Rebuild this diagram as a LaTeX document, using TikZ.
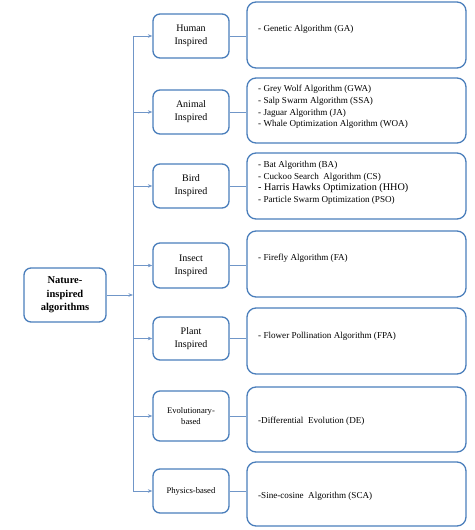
\documentclass[tikz,border=0pt]{standalone}
\usepackage{fontspec}
\setmainfont{Liberation Serif}
\usetikzlibrary{arrows.meta}
\definecolor{boxblue}{HTML}{4A7EBB}
\definecolor{lineblue}{HTML}{7096C8}
\begin{document}
\begin{tikzpicture}[x=1pt,y=-1pt,
  catbox/.style={draw=boxblue, line width=1.3pt, rounded corners=7pt, align=center,
    minimum width=76pt, inner sep=1pt, font=\fontsize{10}{13}\selectfont},
  algbox/.style={draw=boxblue, line width=1.3pt, rounded corners=9pt,
    minimum width=219pt},
  algtxt/.style={anchor=west, align=left, inner sep=0pt, font=\fontsize{9.1}{11.6}\selectfont},
  link/.style={draw=lineblue, line width=0.9pt},
  arr/.style={link, -{Stealth[length=4.5pt,width=3.5pt]}}]
\useasboundingbox (0,0) rectangle (474,530);
% root
\node[catbox, minimum width=82pt, minimum height=54pt, font=\bfseries\fontsize{10.5}{13.5}\selectfont] (root) at (65,295) {Nature-\\inspired\\algorithms};
% categories
\node[catbox, minimum height=44pt] (c1) at (191,36) {Human\\Inspired};
\node[catbox, minimum height=44pt] (c2) at (191,112) {Animal\\Inspired};
\node[catbox, minimum height=44pt] (c3) at (191,186) {Bird\\Inspired};
\node[catbox, minimum height=45pt] (c4) at (191,265.5) {Insect\\Inspired};
\node[catbox, minimum height=43pt] (c5) at (191,338.5) {Plant\\Inspired};
\node[catbox, minimum height=50pt, font=\fontsize{8.6}{11}\selectfont] (c6) at (191,416) {Evolutionary-\\based};
\node[catbox, minimum height=44pt, font=\fontsize{8.6}{11}\selectfont] (c7) at (191,491) {Physics-based};
% algorithm boxes
\node[algbox, minimum height=66pt] (a1) at (356.5,35) {};
\node[algbox, minimum height=65pt] (a2) at (356.5,110.5) {};
\node[algbox, minimum height=66pt] (a3) at (356.5,186) {};
\node[algbox, minimum height=66pt] (a4) at (356.5,264) {};
\node[algbox, minimum height=66pt] (a5) at (356.5,341) {};
\node[algbox, minimum height=65pt] (a6) at (356.5,419.5) {};
\node[algbox, minimum height=64pt] (a7) at (356.5,494) {};
% texts
\node[algtxt] (t1) at (258,29) {- Genetic Algorithm (GA)};
\node[algtxt] (t2) at (258,107) {- Grey Wolf Algorithm (GWA)\\- Salp Swarm Algorithm (SSA)\\- Jaguar Algorithm (JA)\\- Whale Optimization Algorithm (WOA)};
\node[algtxt] (t3) at (258,183) {- Bat Algorithm (BA)\\- Cuckoo Search\ \ Algorithm (CS)\\{\fontsize{10.2}{11.6}\selectfont - Harris Hawks Optimization (HHO)}\\- Particle Swarm Optimization (PSO)};
\node[algtxt] (t4) at (258,258) {- Firefly Algorithm (FA)};
\node[algtxt] (t5) at (258,336) {- Flower Pollination Algorithm (FPA)};
\node[algtxt] (t6) at (258,421) {-Differential\ \ Evolution (DE)};
\node[algtxt] (t7) at (258,496) {-Sine-cosine\ \ Algorithm (SCA)};
% spine
\coordinate (sTop) at (133,36);
\coordinate (sBot) at (133,491);
\coordinate (sMid) at (133,295);
\draw[link] (sTop) -- (sBot);
\draw[arr] (root.east) -- (sMid);
\foreach \c in {c1,c2,c3,c4,c5,c6,c7}{
  \draw[arr] (sTop |- \c.west) -- (\c.west);
}
\foreach \c/\a in {c1/a1,c2/a2,c3/a3,c4/a4,c5/a5,c6/a6,c7/a7}{
  \draw[link] (\c.east) -- (\a.west |- \c.east);
}
\end{tikzpicture}
\end{document}
